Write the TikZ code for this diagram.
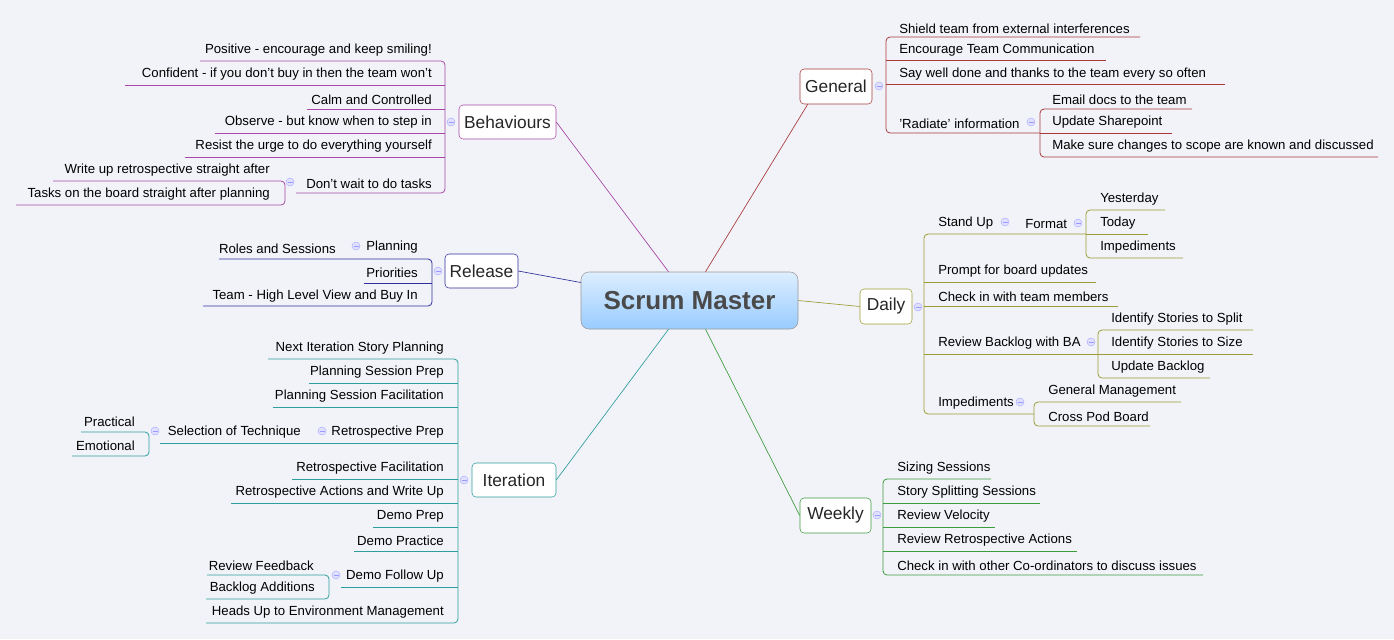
\documentclass[tikz,border=0pt]{standalone}
\usepackage{fontspec}
\setmainfont{Liberation Sans}
\usetikzlibrary{calc}
\definecolor{bg}{HTML}{F2F3F9}
\definecolor{cgen}{HTML}{A83A3A}
\definecolor{cbeh}{HTML}{A848A8}
\definecolor{crel}{HTML}{30309A}
\definecolor{cit}{HTML}{2E9E9E}
\definecolor{cday}{HTML}{9C9C34}
\definecolor{cwk}{HTML}{3C9C3C}
\definecolor{ctop}{HTML}{DDEEFF}
\definecolor{cbot}{HTML}{99CCFF}
\definecolor{ctxt}{HTML}{4A4A4A}
\tikzset{
 leaf/.style={inner sep=0pt,font=\fontsize{9.9}{11}\selectfont},
 topic/.style={draw,fill=white,rounded corners=3pt,inner sep=0pt,font=\fontsize{13}{15}\selectfont,text=black!85},
 ln/.style={line width=0.6pt},
}
\newcommand\lt[3]{\node[leaf,anchor=west] at (#1,{#2+1.5}) {#3};}
\newcommand\rt[3]{\node[leaf,anchor=east] at (#1,{#2+1.5}) {#3};}
\newcommand\ul[3]{\draw[ln] (#2,#1) -- (#3,#1);}
\newcommand\br[5]{\draw[ln,rounded corners=3pt] (#3,#2) -- (#1,#2) -- (#1,#4) -- (#5,#4);}
\newcommand\cc[2]{\draw[fill=blue!12,draw=blue!30,line width=0.4pt] (#1,#2) circle[radius=3pt]; \draw[blue!40,line width=0.5pt] (#1-2.5,#2) -- (#1+2.5,#2);}
\begin{document}
\begin{tikzpicture}[x=0.75pt,y=-0.75pt]
\fill[bg] (0,0) rectangle (1394,639);
\useasboundingbox (0,0) rectangle (1394,639);
% center
\node[draw=gray!80,rounded corners=6pt,top color=ctop,bottom color=cbot,minimum width=162.75pt,minimum height=42.75pt,inner sep=0pt,font=\fontsize{19.5}{21}\selectfont\bfseries,text=ctxt] (sm) at (689.5,300.5) {Scrum Master};
\node[topic,draw=cgen,minimum width=54pt,minimum height=26.25pt] (gen) at (836,86.5) {General};
\node[topic,draw=cbeh,minimum width=72.75pt,minimum height=25.5pt] (beh) at (507.5,122) {Behaviours};
\node[topic,draw=crel,minimum width=54.75pt,minimum height=25.5pt] (rel) at (481.5,271) {Release};
\node[topic,draw=cit,minimum width=63pt,minimum height=25.5pt] (it) at (514,480) {Iteration};
\node[topic,draw=cday,minimum width=39pt,minimum height=26.25pt] (day) at (886,306.5) {Daily};
\node[topic,draw=cwk,minimum width=53.25pt,minimum height=26.25pt] (wk) at (835.5,515.5) {Weekly};
\draw[cgen,line width=0.5pt] ($(sm.north)+(16,0)$) -- ($(gen.south west)+(8,0)$);
\draw[cbeh,line width=0.5pt] ($(sm.north)+(-21,0)$) -- (beh.east);
\draw[crel,line width=0.5pt] ($(sm.west)+(0,-18)$) -- (rel.east);
\draw[cit,line width=0.5pt] ($(sm.south)+(-21,0)$) -- (it.east);
\draw[cday,line width=0.5pt] (sm.east) -- (day.west);
\draw[cwk,line width=0.5pt] ($(sm.south)+(16,0)$) -- (wk.west);
% General
\begin{scope}[cgen]
\br{886}{37}{1140}{133}{1040}
\ul{60}{886}{1106}\ul{84}{886}{1225}
\br{1040}{109}{1192}{157}{1378}
\ul{133}{1040}{1172}
\end{scope}
\lt{899}{27}{Shield team from external interferences}
\lt{899}{49}{Encourage Team Communication}
\lt{899}{73}{Say well done and thanks to the team every so often}
\lt{899}{122}{'Radiate' information}
\lt{1052}{98}{Email docs to the team}
\lt{1052}{121}{Update Sharepoint}
\lt{1052}{145}{Make sure changes to scope are known and discussed}
\cc{879}{86}\cc{1031}{122}
% Behaviours
\begin{scope}[cbeh]
\br{445}{61}{200}{193}{296}
\ul{85}{125}{445}\ul{109}{307}{445}\ul{133}{215}{445}\ul{157}{185}{445}
\br{285}{181}{53}{205}{16}
\end{scope}
\rt{432}{49}{Positive - encourage and keep smiling!}
\rt{432}{73}{Confident - if you don't buy in then the team won't}
\rt{432}{98}{Calm and Controlled}
\rt{432}{121}{Observe - but know when to step in}
\rt{432}{145}{Resist the urge to do everything yourself}
\rt{432}{182}{Don't wait to do tasks}
\rt{270}{169}{Write up retrospective straight after}
\rt{270}{193}{Tasks on the board straight after planning}
\cc{451}{122}\cc{290}{182}
% Release
\begin{scope}[crel]
\br{432}{259}{219}{306}{203}
\ul{283}{364}{432}
\end{scope}
\rt{418}{246}{Planning}
\rt{336}{247}{Roles and Sessions}
\rt{418}{271}{Priorities}
\rt{418}{295}{Team - High Level View and Buy In}
\cc{438}{271}\cc{356}{246}
% Iteration
\begin{scope}[cit]
\br{458}{359}{268}{623}{206}
\ul{383}{309}{458}\ul{407}{273}{458}\ul{443}{160}{458}\ul{479}{292}{458}
\ul{503}{231}{458}\ul{527}{373}{458}\ul{551}{354}{458}\ul{587}{341}{458}
\br{149}{432}{81}{456}{72}
\br{329}{575}{207}{599}{206}
\end{scope}
\rt{444}{347}{Next Iteration Story Planning}
\rt{444}{371}{Planning Session Prep}
\rt{444}{395}{Planning Session Facilitation}
\rt{444}{431}{Retrospective Prep}
\rt{301}{431}{Selection of Technique}
\rt{135}{420}{Practical}
\rt{135}{444}{Emotional}
\rt{444}{467}{Retrospective Facilitation}
\rt{444}{491}{Retrospective Actions and Write Up}
\rt{444}{515}{Demo Prep}
\rt{444}{539}{Demo Practice}
\rt{444}{575}{Demo Follow Up}
\rt{314}{564}{Review Feedback}
\rt{315}{587}{Backlog Additions}
\rt{444}{611}{Heads Up to Environment Management}
\cc{464}{480}\cc{322}{431}\cc{155}{431}\cc{336}{575}
% Daily
\begin{scope}[cday]
\br{924}{234}{1086}{414}{1034}
\ul{282}{924}{1096}\ul{306}{924}{1118}\ul{354}{924}{1098}
\br{1086}{210}{1165}{258}{1183}
\ul{234}{1086}{1148}
\br{1098}{330}{1253}{378}{1210}
\ul{354}{1098}{1253}
\br{1034}{402}{1181}{426}{1150}
\end{scope}
\lt{938}{222}{Stand Up}
\lt{1025}{223}{Format}
\lt{1100}{198}{Yesterday}
\lt{1100}{222}{Today}
\lt{1100}{246}{Impediments}
\lt{938}{270}{Prompt for board updates}
\lt{938}{295}{Check in with team members}
\lt{938}{342}{Review Backlog with BA}
\lt{1111}{318}{Identify Stories to Split}
\lt{1111}{342}{Identify Stories to Size}
\lt{1111}{366}{Update Backlog}
\lt{938}{402}{Impediments}
\lt{1048}{390}{General Management}
\lt{1048}{415}{Cross Pod Board}
\cc{918}{307}\cc{1005}{222}\cc{1078}{223}\cc{1091}{342}\cc{1020}{402}
% Weekly
\begin{scope}[cwk]
\br{883}{479}{991}{575}{1203}
\ul{503}{883}{1040}\ul{527}{883}{995}\ul{551}{883}{1077}
\end{scope}
\lt{897}{467}{Sizing Sessions}
\lt{897}{491}{Story Splitting Sessions}
\lt{897}{515}{Review Velocity}
\lt{897}{539}{Review Retrospective Actions}
\lt{897}{564}{Check in with other Co-ordinators to discuss issues}
\cc{877}{515}
\end{tikzpicture}
\end{document}
